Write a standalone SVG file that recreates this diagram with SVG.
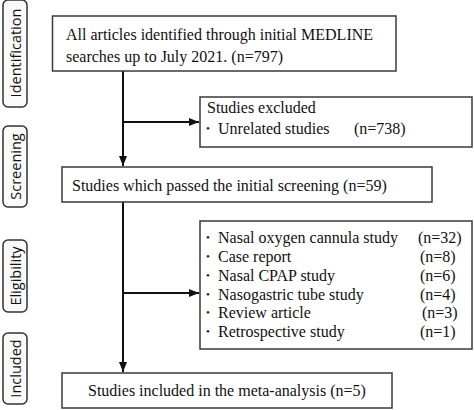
<svg xmlns="http://www.w3.org/2000/svg" width="474" height="410" viewBox="0 0 474 410">
<style>
.box{fill:#fff;stroke:#3a3a3a;stroke-width:1.5}
.side{fill:#fafafa;stroke:#333;stroke-width:1.5}
.t{font-family:"Liberation Serif","Times New Roman",serif;font-size:16px;fill:#111}
.b{font-family:"Liberation Serif","Times New Roman",serif;font-size:11px;fill:#111}
.s{font-family:"Open Sans","DejaVu Sans",sans-serif;font-size:14.5px;font-weight:500;fill:#111;text-anchor:middle}
.ln{stroke:#111;stroke-width:2;fill:none}
</style>
<defs>
<marker id="ah" viewBox="0 0 10 10" refX="10" refY="5" markerWidth="5" markerHeight="5" orient="auto" markerUnits="strokeWidth">
<path d="M0,1 L10,5 L0,9 Z" fill="#111"/>
</marker>
</defs>
<g id="side-identification"><rect class="side" x="3" y="0" width="24" height="107" rx="5"/><text class="s" transform="translate(21,53) rotate(-90)">Identification</text></g>
<g id="side-screening"><rect class="side" x="3" y="126" width="24" height="81" rx="5"/><text class="s" transform="translate(21,166.5) rotate(-90)">Screening</text></g>
<g id="side-eligibility"><rect class="side" x="3" y="240" width="24" height="72" rx="5"/><text class="s" transform="translate(21,276) rotate(-90)">Eligibility</text></g>
<g id="side-included"><rect class="side" x="3" y="333" width="24" height="71" rx="5"/><text class="s" transform="translate(21,368.5) rotate(-90)">Included</text></g>
<g id="connectors">
<line class="ln" x1="123" y1="71" x2="123" y2="166" marker-end="url(#ah)"/>
<line class="ln" x1="123" y1="122" x2="199" y2="122" marker-end="url(#ah)"/>
<line class="ln" x1="123" y1="202" x2="123" y2="372" marker-end="url(#ah)"/>
<line class="ln" x1="123" y1="293" x2="199" y2="293" marker-end="url(#ah)"/>
</g>
<g id="box-identified"><rect class="box" x="52.5" y="16" width="343.5" height="55"/>
<text class="t" x="66" y="40">All articles identified through initial MEDLINE</text>
<text class="t" x="66" y="62">searches up to July 2021. (n=797)</text></g>
<g id="box-excluded"><rect class="box" x="200" y="97" width="272" height="50"/>
<text class="t" x="207" y="113">Studies excluded</text>
<text class="b" x="206" y="132">•</text><text class="t" x="218" y="134">Unrelated studies</text>
<text class="t" x="354" y="134">(n=738)</text></g>
<g id="box-screened"><rect class="box" x="62" y="167" width="370" height="35"/>
<text class="t" x="72" y="191">Studies which passed the initial screening (n=59)</text></g>
<g id="box-eligibility"><rect class="box" x="200" y="221" width="272" height="128"/>
<text class="b" x="206" y="241">•</text><text class="t" x="218" y="243">Nasal oxygen cannula study</text><text class="t" x="418" y="243">(n=32)</text>
<text class="b" x="206" y="260">•</text><text class="t" x="218" y="262">Case report</text><text class="t" x="420" y="262">(n=8)</text>
<text class="b" x="206" y="279">•</text><text class="t" x="218" y="281">Nasal CPAP study</text><text class="t" x="420" y="281">(n=6)</text>
<text class="b" x="206" y="298">•</text><text class="t" x="218" y="300">Nasogastric tube study</text><text class="t" x="420" y="300">(n=4)</text>
<text class="b" x="206" y="316">•</text><text class="t" x="218" y="318">Review article</text><text class="t" x="422" y="318">(n=3)</text>
<text class="b" x="206" y="335">•</text><text class="t" x="218" y="337">Retrospective study</text><text class="t" x="420" y="337">(n=1)</text></g>
<g id="box-included"><rect class="box" x="62" y="373" width="330" height="35"/>
<text class="t" x="88" y="396">Studies included in the meta-analysis (n=5)</text></g>
</svg>
